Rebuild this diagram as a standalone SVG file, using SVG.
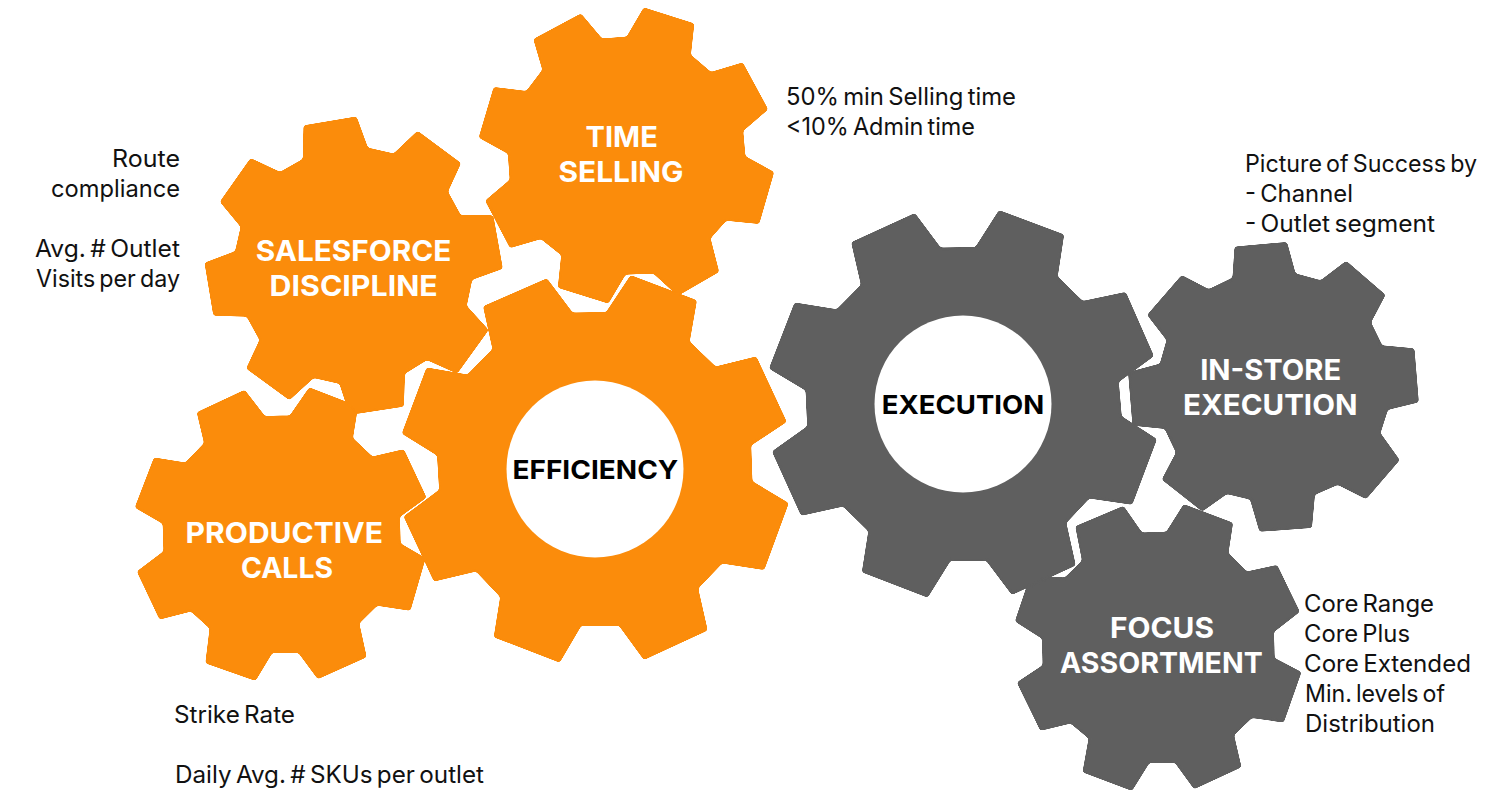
<svg xmlns="http://www.w3.org/2000/svg" width="1500" height="802" viewBox="0 0 1500 802">
<style>
.o{fill:#FB8C0B;stroke:#FB8C0B}
.g{fill:#5F5F5F;stroke:#5F5F5F}
.o,.g{stroke-width:1.5;stroke-linejoin:round;filter:url(#soft)}
.hole{fill:#fff}
.h{font-family:Inter,"Liberation Sans",sans-serif;font-weight:700;font-size:28.5px;fill:#fff}
.k{font-family:Inter,"Liberation Sans",sans-serif;font-weight:700;font-size:26px;fill:#000}
.b{font-family:Inter,"Liberation Sans",sans-serif;font-weight:400;font-size:24px;fill:#111;word-spacing:-2.5px}
</style>
<defs>
<filter id="soft" x="-5%" y="-5%" width="110%" height="110%" color-interpolation-filters="sRGB">
<feGaussianBlur stdDeviation="1.6"/>
<feComponentTransfer><feFuncA type="linear" slope="8" intercept="-3.5"/></feComponentTransfer>
</filter>
</defs>
<rect width="1500" height="802" fill="#fff"/>
<g id="time-selling">
<polygon class="o" points="534.1,39.3 580.7,14.3 601.8,39.3 627,37.3 644,8.3 693.6,24 690.2,55 710.9,72.7 742.5,63.3 767.4,109.3 742.5,130.7 744.8,156.7 773.4,172.3 758.7,223.3 726,220 709.8,238.3 718.4,271.7 677.8,295 653.4,272.7 625.1,274 608.2,302.7 558.5,287.3 561.9,255 541.2,238.3 510.4,247.3 485.9,200.7 510.4,180 508.5,153.3 479.5,137.3 494.2,87.7 526.6,91.7 543.1,70"/>
<text class="h" x="585.6" y="147" textLength="72.2" lengthAdjust="spacingAndGlyphs">TIME</text>
<text class="h" x="558.5" y="181.7" textLength="125" lengthAdjust="spacingAndGlyphs">SELLING</text>
</g>
<g id="salesforce-discipline">
<polygon class="o" points="304.2,126 356.1,117.3 367.4,148.3 393.8,154.3 417.5,131.7 460.3,163.3 447.2,191.7 460.3,215.7 492.7,216 502.1,268.3 471.6,279.3 466,306 487.8,330 457,372.7 426.9,359.3 404.3,373.3 403.2,406 356.1,413.3 346,401.7 340,383.3 313.6,377.3 289.5,399.3 247,368.3 260.2,340 247,316 213.9,315 205.3,263.3 235.7,251.7 241.4,226.7 220.7,201.7 250.8,159 280.1,172.7 303.5,159.3"/>
<text class="h" x="255.7" y="261" textLength="195.6" lengthAdjust="spacingAndGlyphs">SALESFORCE</text>
<text class="h" x="269.6" y="296" textLength="168.2" lengthAdjust="spacingAndGlyphs">DISCIPLINE</text>
</g>
<g id="productive-calls">
<polygon class="o" points="197.5,412.7 244.5,390.7 264.6,416.7 290.3,416 309.5,388.3 347,402.7 356.5,412 352.2,438.3 372.3,457.3 403.5,450 425.7,497.3 399.2,516.7 400,544 424.9,558.3 409.9,610 377,605 358.6,623.3 365.9,656.7 318,678.3 298.8,652.3 271.9,652.3 255.2,680 206.1,662.7 210.3,628.3 191.1,610.7 159.9,618.7 137.7,571.7 164.2,551.7 163.3,523.3 135.6,507.3 154.4,458.3 185.6,463.3 204.8,443.3"/>
<text class="h" x="185.6" y="543.3" textLength="197.4" lengthAdjust="spacingAndGlyphs">PRODUCTIVE</text>
<text class="h" x="241" y="578.3" textLength="92" lengthAdjust="spacingAndGlyphs">CALLS</text>
</g>
<g id="efficiency">
<polygon class="o" points="483.8,306.7 546.7,279.3 572.3,313.3 606.5,312.7 630.9,276 696.2,300.7 689,341.7 715.5,367.3 756,357.3 786,421.7 750.5,445 751.8,481.7 788,503.3 763.8,569.3 721.9,562.7 697.5,588.3 706.9,630 644.1,659 619.3,625 580.9,625 559.5,661.7 494.5,636.7 500.9,596.7 476.2,570.7 434.3,580.7 404.4,516.7 439.8,490 437.7,455 402.6,433.3 427,368.3 467.6,375.3 493.2,349.3"/>
<circle class="hole" cx="595" cy="469" r="88.5"/>
<text class="k" x="512.5" y="479.3" textLength="165.8" lengthAdjust="spacingAndGlyphs">EFFICIENCY</text>
</g>
<g id="execution">
<polygon class="g" points="851.9,242.7 914.7,214 940.3,248.3 975.8,247.7 999.3,211 1063.4,235 1057,276.7 1082.6,301.7 1125.4,292.7 1153.2,356 1118.1,381.7 1121.1,416.7 1156.2,439.3 1131.8,504 1089.1,497.7 1065.6,522.7 1075,565 1012.1,594 986.5,560 950.2,560 927.5,596.7 862.6,571.7 869,531 843.3,505.7 801.5,515 772.8,451.7 807.9,426.7 806.2,390 769.8,368.3 795,303.3 836.9,310 861.7,285"/>
<circle class="hole" cx="963" cy="404" r="88.5"/>
<text class="k" x="881.8" y="414" textLength="162.4" lengthAdjust="spacingAndGlyphs">EXECUTION</text>
</g>
<g id="in-store-execution">
<polygon class="g" points="1235.2,247.3 1286.5,242.7 1295,274 1320.7,281 1346.3,261.7 1384.8,295 1370.3,322.3 1381.8,346 1413.8,349 1418.1,401.7 1387.4,409.3 1379.7,433.3 1398.9,460 1366,498.3 1337.8,484 1314.3,494.3 1311.3,527.3 1260,531 1250.6,499 1226.7,493.3 1202.3,510.7 1162.6,479.3 1176.7,452.7 1165.1,428.3 1133.1,425 1128.8,372.7 1160.4,364.3 1167.3,340 1148,315 1181.8,276 1208.7,290 1233.1,278.3"/>
<text class="h" x="1200.2" y="380" textLength="141" lengthAdjust="spacingAndGlyphs">IN-STORE</text>
<text class="h" x="1183" y="415" textLength="174.4" lengthAdjust="spacingAndGlyphs">EXECUTION</text>
</g>
<g id="focus-assortment">
<polygon class="g" points="1076,526.7 1123.3,506.7 1141.7,533.3 1166.7,532.3 1184,505 1232.3,523.3 1227.7,553.3 1246.7,572.3 1276.7,565.7 1299,611.7 1273.3,631.7 1274,658.3 1300.7,672.3 1283.3,721.7 1251.7,717.3 1233.3,735 1240.7,766.7 1194.3,788.3 1175,761.7 1149,762.3 1131.7,790 1083.3,771.7 1089.3,738.3 1070.7,722.7 1040.7,730 1017.7,682.7 1043.3,665.7 1042.7,638.3 1015.7,621 1027.3,586.7 1050,577.3 1065,578.3 1082.7,560.7"/>
<text class="h" x="1110" y="638" textLength="104" lengthAdjust="spacingAndGlyphs">FOCUS</text>
<text class="h" x="1060" y="673" textLength="202.7" lengthAdjust="spacingAndGlyphs">ASSORTMENT</text>
</g>
<g id="notes">
<text class="b" x="112" y="167" textLength="68" lengthAdjust="spacingAndGlyphs">Route</text>
<text class="b" x="51" y="197" textLength="129" lengthAdjust="spacingAndGlyphs">compliance</text>
<text class="b" x="35" y="257" textLength="145" lengthAdjust="spacingAndGlyphs">Avg. # Outlet</text>
<text class="b" x="36" y="287" textLength="144" lengthAdjust="spacingAndGlyphs">Visits per day</text>
<text class="b" x="786" y="105" textLength="230" lengthAdjust="spacingAndGlyphs">50% min Selling time</text>
<text class="b" x="786" y="135" textLength="189" lengthAdjust="spacingAndGlyphs">&lt;10% Admin time</text>
<text class="b" x="1245" y="172" textLength="232" lengthAdjust="spacingAndGlyphs">Picture of Success by</text>
<text class="b" x="1245" y="202" textLength="108" lengthAdjust="spacingAndGlyphs">- Channel</text>
<text class="b" x="1245" y="232" textLength="190" lengthAdjust="spacingAndGlyphs">- Outlet segment</text>
<text class="b" x="1304" y="612" textLength="130" lengthAdjust="spacingAndGlyphs">Core Range</text>
<text class="b" x="1304" y="642" textLength="106" lengthAdjust="spacingAndGlyphs">Core Plus</text>
<text class="b" x="1304" y="672" textLength="167" lengthAdjust="spacingAndGlyphs">Core Extended</text>
<text class="b" x="1305" y="702" textLength="140" lengthAdjust="spacingAndGlyphs">Min. levels of</text>
<text class="b" x="1305" y="732" textLength="130" lengthAdjust="spacingAndGlyphs">Distribution</text>
<text class="b" x="174" y="723" textLength="121" lengthAdjust="spacingAndGlyphs">Strike Rate</text>
<text class="b" x="175" y="783" textLength="309" lengthAdjust="spacingAndGlyphs">Daily Avg. # SKUs per outlet</text>
</g>
</svg>
